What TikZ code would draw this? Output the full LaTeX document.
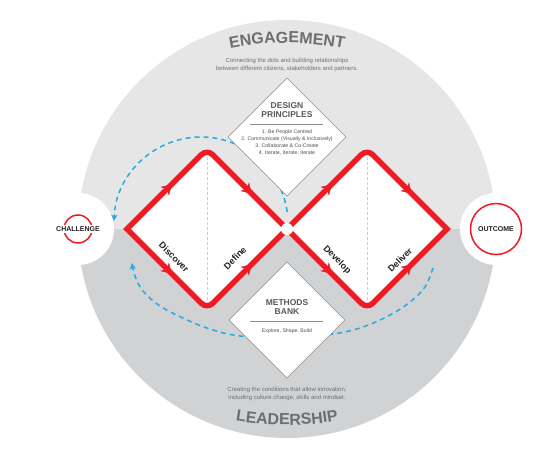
\documentclass[tikz,border=0pt]{standalone}
\usepackage{fontspec}
\setmainfont{Liberation Sans}
\usetikzlibrary{arrows.meta,decorations.markings,decorations.text,calc}
\definecolor{lgray}{HTML}{E6E6E6}
\definecolor{dgray}{HTML}{D1D2D4}
\definecolor{dred}{HTML}{ED1C24}
\definecolor{cyanb}{HTML}{29ABE2}
\definecolor{tgray}{HTML}{6D6E71}
\definecolor{bgray}{HTML}{58595B}
\definecolor{ink}{HTML}{231F20}
\begin{document}
\begin{tikzpicture}[x=1pt,y=1pt,
  redline/.style={draw=dred, line width=5.5pt, fill=white, line join=miter, miter limit=10},
  midline/.style={draw=black!20, line width=0.5pt, dash pattern=on 3pt off 2pt},
  cyanarc/.style={draw=cyanb, line width=1.5pt, dash pattern=on 5pt off 4pt, -{Stealth[length=6pt,width=6pt,inset=1pt]}},
  flowtip/.style={decorate, decoration={markings, mark=at position 0.56 with {\arrow{Stealth[length=10pt,width=12pt,inset=3pt,color=dred,line width=0.4pt]}}}},
  stagelab/.style={font=\bfseries\fontsize{9}{10}\selectfont, text=ink, inner sep=0pt},
  boxline/.style={draw=black!45, line width=0.5pt},
  boxtitle/.style={font=\bfseries\fontsize{8.5}{10}\selectfont, text=bgray, align=center, inner sep=0pt},
  boxtext/.style={font=\fontsize{5.2}{7}\selectfont, text=bgray!90!black, align=center, inner sep=0pt},
  subtext/.style={font=\fontsize{6}{8}\selectfont, text=tgray, align=center, inner sep=0pt},
  endlab/.style={font=\bfseries\fontsize{7}{8}\selectfont, text=ink, fill=white, inner sep=1.2pt}
]
\useasboundingbox (0,0) rectangle (560,459);

% background circle
\fill[lgray] (78,230) arc[start angle=180, end angle=0, radius=209] -- cycle;
\fill[dgray] (78,230) arc[start angle=180, end angle=360, radius=209] -- cycle;

% end circles
\fill[white] (78,230) circle (36);
\fill[white] (496,230) circle (36);

% cyan dashed loops
\draw[cyanarc] (201,235) ++(8:87) arc[start angle=8, end angle=178, radius=87];
\draw[cyanarc] plot[smooth, tension=0.6] coordinates {(433,191) (425,172) (410,157) (390,144) (363,132) (333,125) (287,121) (240,123) (210,130) (185,140) (160,153) (143,168) (135,183) (132,196)};
\draw[cyanarc] (367,234) ++(10:27) arc[start angle=10, end angle=172, radius=27];

% diamond vertices
\coordinate (L1) at (127,230);
\coordinate (T1) at (207,310);
\coordinate (R1) at (287,230);
\coordinate (B1) at (207,150);
\coordinate (L2) at (287,230);
\coordinate (T2) at (367,310);
\coordinate (R2) at (447,230);
\coordinate (B2) at (367,150);

% diamonds
\draw[redline] (L1) -- ($(T1)+(-5.657,-5.657)$) arc[start angle=135, end angle=45, radius=8]
  -- (R1) -- ($(B1)+(5.657,5.657)$) arc[start angle=-45, end angle=-135, radius=8] -- cycle;
\draw[redline] (L2) -- ($(T2)+(-5.657,-5.657)$) arc[start angle=135, end angle=45, radius=8]
  -- (R2) -- ($(B2)+(5.657,5.657)$) arc[start angle=-45, end angle=-135, radius=8] -- cycle;
\draw[midline] (207,302) -- (207,158);
\draw[midline] (367,302) -- (367,158);

% flow arrows
\path[flowtip] (L1) -- (T1);
\path[flowtip] (T1) -- (R1);
\path[flowtip] (L1) -- (B1);
\path[flowtip] (B1) -- (R1);
\path[flowtip] (L2) -- (T2);
\path[flowtip] (T2) -- (R2);
\path[flowtip] (L2) -- (B2);
\path[flowtip] (B2) -- (R2);

% junction
\fill[white] (287,230) circle (6);

% stage labels
\node[stagelab, rotate=-45] (discover) at (174,202) {Discover};
\node[stagelab, rotate=45] (define) at (235,201) {Define};
\node[stagelab, rotate=-45] (develop) at (337,199) {Develop};
\node[stagelab, rotate=45] (deliver) at (400,199) {Deliver};

% design principles
\draw[boxline, fill=white] (287,381) -- (346,322) -- (287,263) -- (228,322) -- cycle;
\node[boxtitle] (dptitle) at (287,349) {DESIGN\\[-0.5pt]PRINCIPLES};
\draw[boxline] (250,335) -- (323,335);
\node[boxtext] (dpitems) at (287,316.5) {1. Be People Centred\\2. Communicate (Visually \& Inclusively)\\3. Collaborate \& Co-Create\\4. Iterate, Iterate, Iterate};

% methods bank
\draw[boxline, fill=white] (287,197) -- (345,139) -- (287,81) -- (229,139) -- cycle;
\node[boxtitle] (mbtitle) at (287,152) {METHODS\\[-0.5pt]BANK};
\draw[boxline] (250,138) -- (323,138);
\node[boxtext] (mbitems) at (287,128) {Explore, Shape, Build};

% challenge and outcome
\draw[dred, line width=1.5pt] (78,230) circle (14);
\node[endlab] (challenge) at (78,230) {CHALLENGE};
\draw[dred, line width=1.5pt] (496,230) circle (25.5);
\node[endlab, fill=none] (outcome) at (496,230) {OUTCOME};

% engagement / leadership
\path[decorate, decoration={text along path, text align=center, text color=tgray,
  text={|\bfseries\fontsize{16}{18}\selectfont|ENGAGEMENT}}]
  (287,116) ++(115:300) arc[start angle=115, end angle=65, radius=300];
\node[subtext] (engtext) at (287,394) {Connecting the dots and building relationships\\between different citizens, stakeholders and partners.};
\node[subtext] (leadtext) at (287,65) {Creating the conditions that allow innovation,\\including culture change, skills and mindset.};
\path[decorate, decoration={text along path, text align=center, text color=tgray,
  text={|\bfseries\fontsize{16}{18}\selectfont|LEADERSHIP}}]
  (287,334) ++(245:300) arc[start angle=245, end angle=295, radius=300];
\end{tikzpicture}
\end{document}
